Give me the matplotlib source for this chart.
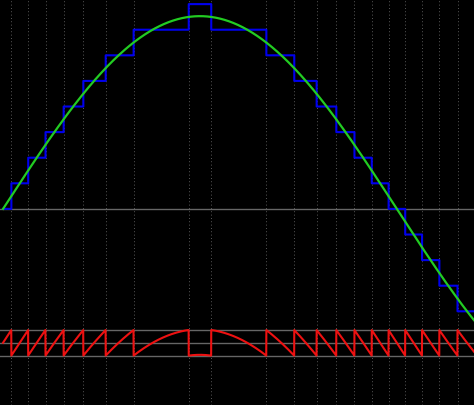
import numpy as np
import matplotlib
matplotlib.use("Agg")
import matplotlib.pyplot as plt

# signal parameters (in quantization steps)
amplitude = 7.53
t_end = 3.757
error_offset = -5.23

t = np.linspace(0, t_end, 4000)
signal = amplitude * np.sin(t)
quantized = np.round(signal)
error = signal - quantized

# transition points of the staircase
jumps = t[1:][np.diff(quantized) != 0]

fig = plt.figure(figsize=(4.74, 4.06), dpi=100, facecolor="black")
ax = fig.add_axes([0, 0, 1, 1], facecolor="black")

for x in jumps:
    ax.axvline(x, color="#777777", linestyle=(0, (1, 3)), linewidth=0.6)

ax.axhline(0, color="#666666", linewidth=1)
for lvl in (0.5, 0, -0.5):
    ax.axhline(error_offset + lvl, color="#666666", linewidth=1)

ax.plot(t, quantized, color="#0000ee", linewidth=1.5, drawstyle="steps-post")
ax.plot(t, signal, color="#22cc22", linewidth=1.6)
ax.plot(t, error + error_offset, color="#ee1111", linewidth=1.5)

ax.set_xlim(-0.024, t_end)
ax.set_ylim(-7.66, 8.2)
ax.axis("off")
fig.savefig("out.png", dpi=100, facecolor="black")
